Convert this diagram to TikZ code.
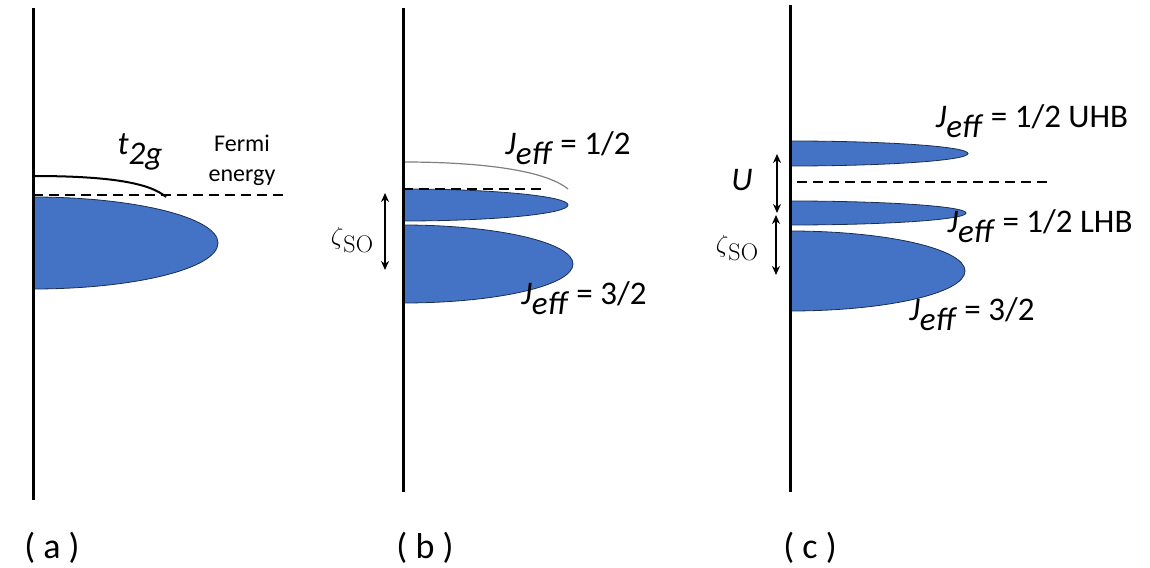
\documentclass[tikz,border=0pt]{standalone}
\usepackage{fontspec}
\setmainfont{Carlito}
\newfontfamily\lmr{Latin Modern Roman}
\usetikzlibrary{arrows.meta}
\definecolor{bandblue}{RGB}{68,114,196}
\newcommand{\jeff}{\textit{J}\raisebox{-0.3em}{\textit{eff}}}
\newcommand{\zso}{$\zeta$\raisebox{-0.25em}{\lmr\fontsize{24}{26}\selectfont SO}}
\begin{document}
\begin{tikzpicture}[x=1pt,y=-1pt,
  axis/.style={line width=3pt},
  band/.style={fill=bandblue,draw=black!60!bandblue,line width=0.8pt},
  fermi/.style={line width=2.2pt,dash pattern=on 10pt off 6pt},
  gap/.style={{Stealth[length=9pt,width=8pt]}-{Stealth[length=9pt,width=8pt]},line width=1.6pt},
  lab/.style={font=\fontsize{33}{36}\selectfont,anchor=center},
  big/.style={font=\fontsize{36}{40}\selectfont,anchor=center}]
\useasboundingbox (0,0) rectangle (1150,567);
% panel a
\draw[band] (33,197) arc[start angle=-90,end angle=90,x radius=185,y radius=46] -- cycle;
\draw[line width=2pt] (33,176) .. controls (110,176) and (150,183) .. (166,197);
\draw[fermi] (33,195) -- (285,195);
\draw[axis] (33,8) -- (33,500);
\node[lab] (t2g) at (140,152) {\textit{t}\raisebox{-0.3em}{\textit{2g}}};
\node[lab,align=center,font=\fontsize{24}{30}\selectfont] (fe) at (242,160) {Fermi\\energy};
\node[big] (la) at (52,548) {( a )};
% panel b
\draw[black!50,line width=1.2pt] (403,162) .. controls (480,162) and (545,170) .. (568,189);
\draw[band] (403,189) arc[start angle=-90,end angle=90,x radius=165,y radius=16] -- cycle;
\draw[band] (403,225) arc[start angle=-90,end angle=90,x radius=170,y radius=39] -- cycle;
\draw[fermi] (403,189) -- (545,189);
\draw[axis] (403,8) -- (403,492);
\coordinate (b1) at (385,193); \coordinate (b2) at (385,270);
\draw[gap] (b1) -- (b2);
\node[lab] (zb) at (352,240) {\zso};
\node[lab] (jb1) at (568,148) {\jeff{} = 1/2};
\node[lab] (jb2) at (584,298) {\jeff{} = 3/2};
\node[big] (lb) at (425,548) {( b )};
% panel c
\draw[band] (790,141) arc[start angle=-90,end angle=90,x radius=178,y radius=12.5] -- cycle;
\draw[band] (790,201) arc[start angle=-90,end angle=90,x radius=176,y radius=12] -- cycle;
\draw[band] (790,231) arc[start angle=-90,end angle=90,x radius=175,y radius=40] -- cycle;
\draw[fermi] (797,182) -- (1052,182);
\draw[axis] (790,5) -- (790,492);
\coordinate (c1) at (777,154); \coordinate (c2) at (777,213);
\coordinate (c3) at (776,215); \coordinate (c4) at (776,275);
\draw[gap] (c1) -- (c2);
\draw[gap] (c3) -- (c4);
\node[lab] (uc) at (742,180) {\textit{U}};
\node[lab] (zc) at (737,248) {\zso};
\node[lab] (jc1) at (1032,121) {\jeff{} = 1/2 UHB};
\node[lab] (jc2) at (1040,226) {\jeff{} = 1/2 LHB};
\node[lab] (jc3) at (972,314) {\jeff{} = 3/2};
\node[big] (lc) at (810,548) {( c )};
\end{tikzpicture}
\end{document}
